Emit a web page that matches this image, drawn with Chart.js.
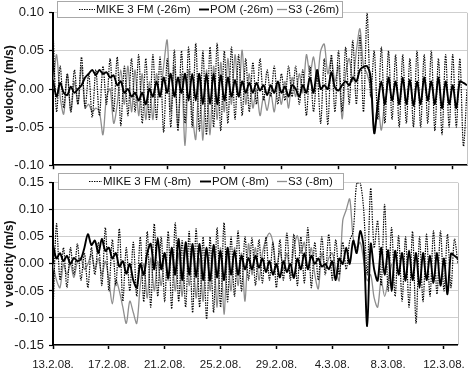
<!DOCTYPE html>
<html><head><meta charset="utf-8">
<script src="https://cdn.jsdelivr.net/npm/chart.js@4.4.1/dist/chart.umd.min.js"></script>
<style>
html,body{margin:0;padding:0;background:#fff;width:474px;height:371px;overflow:hidden}
.box{position:absolute;left:0;width:474px}
#b1{top:0;height:178px}
#b2{top:170px;height:201px}
</style></head><body>
<div class="box" id="b1"><canvas id="c1" width="474" height="178"></canvas></div>
<div class="box" id="b2"><canvas id="c2" width="474" height="201"></canvas></div>
<script>
// time axis: days after 13.2.08, 4 samples per day
const SAMPLES_PER_DAY = 4;
const xTickDays = [0, 4, 8, 12, 16, 20, 24, 28];
const xTickLabels = ['13.2.08.', '17.2.08.', '21.2.08.', '25.2.08.', '29.2.08.', '4.3.08.', '8.3.08.', '12.3.08.'];
const uTickVals = [-0.10, -0.05, 0.00, 0.05, 0.10];
const uTickLabels = ['-0.10', '-0.05', '0.00', '0.05', '0.10'];
const vTickVals = [-0.15, -0.10, -0.05, 0.00, 0.05, 0.10, 0.15];
const vTickLabels = ['-0.15', '-0.10', '-0.05', '0.00', '0.05', '0.10', '0.15'];

// u velocity at -26 m
const uMike = [
 0.08,-0.03,0.03,-0.025,  0.02,-0.03,0.025,-0.02,  0.042,-0.025,0.02,-0.037,  0.025,-0.035,0.03,-0.02,
 0.04,-0.03,0.042,-0.048,  0.03,-0.035,0.04,-0.03,  0.045,-0.045,0.04,-0.04,  0.045,-0.04,0.042,-0.057,
 0.04,-0.05,0.051,-0.055,  0.05,-0.045,0.055,-0.05,  0.06,-0.055,0.05,-0.06,  0.055,-0.05,0.06,-0.055,
 0.05,-0.045,0.055,-0.04,  0.045,-0.035,0.04,-0.03,  0.035,-0.02,0.04,-0.015,  0.025,-0.01,0.03,-0.02,
 0.02,-0.015,0.03,-0.01,  0.03,-0.02,0.025,-0.035,  0.03,-0.03,0.02,-0.045,  0.04,-0.047,0.045,-0.03,
 0.05,-0.03,0.055,-0.02,  0.064,-0.02,0.07,-0.03,  0.1,-0.01,0.05,-0.04,  0.055,-0.045,0.05,-0.04,
 0.045,-0.05,0.045,-0.045,  0.04,-0.05,0.05,-0.05,  0.045,-0.045,0.05,-0.055,  0.04,-0.06,0.045,-0.05,
 0.045,-0.05,0.04,-0.075,  0.0
];
const uPom = [
 0.012,-0.01,0.008,-0.005,  -0.008,0.003,-0.005,0.0,  0.005,0.015,0.02,0.025,  0.018,0.025,0.02,0.022,
 0.015,0.018,0.005,0.01,  -0.005,0.0,-0.01,-0.005,  -0.015,-0.005,-0.02,0.0,  -0.01,0.01,-0.01,0.015,
 -0.005,0.02,-0.01,0.015,  -0.005,0.02,-0.015,0.02,  -0.015,0.02,-0.02,0.02,  -0.02,0.02,-0.02,0.018,
 -0.015,0.015,-0.01,0.012,  -0.01,0.01,-0.005,0.008,  -0.005,0.008,-0.002,0.005,  -0.008,0.005,-0.005,0.01,
 -0.005,0.003,-0.01,0.005,  0.0,-0.01,0.005,-0.005,  0.015,-0.005,0.025,0.0,  0.005,0.0,0.022,0.002,
 -0.002,0.005,0.01,0.005,  0.015,0.01,0.025,0.029,  0.03,0.015,-0.058,-0.02,  0.01,-0.02,0.015,-0.015,
 0.01,-0.02,0.015,-0.02,  0.012,-0.022,0.01,-0.02,  0.015,-0.015,0.01,-0.02,  0.015,-0.025,0.01,-0.02,
 0.005,-0.025,0.01,0.008,  0.005
];
const uS3 = [
 0.0,0.045,-0.01,-0.033,  0.02,-0.03,0.01,-0.02,  0.03,-0.025,-0.02,-0.03,  -0.025,-0.03,-0.06,-0.01,
 0.0,-0.045,-0.02,0.025,  -0.02,0.03,-0.03,0.025,  -0.035,0.02,-0.04,0.01,  -0.04,0.02,-0.01,0.03,
 0.064,-0.03,0.03,-0.05,  0.02,-0.074,0.025,-0.03,  -0.066,0.02,-0.067,0.025,  -0.06,0.03,-0.04,0.035,
 -0.03,0.04,-0.02,0.045,  -0.01,0.051,-0.02,0.02,  -0.025,0.0,-0.035,-0.01,  -0.028,-0.005,-0.03,0.005,
 -0.02,0.01,-0.025,0.015,  -0.01,0.02,-0.005,0.045,  0.02,0.042,0.01,0.05,  0.059,0.02,0.04,0.01,
 0.03,-0.039,0.02,0.04,  0.01,0.05,0.079,0.03,  0.02,0.0,-0.054,-0.02,  -0.054,-0.01
];

// v velocity at -8 m
const vMike = [
 -0.093,0.074,-0.03,0.03,  -0.044,0.03,-0.02,0.037,  -0.03,0.02,-0.044,0.03,  -0.02,0.04,-0.04,0.067,
 -0.05,0.045,-0.04,0.065,  -0.069,0.03,-0.05,0.04,  -0.06,0.05,-0.07,0.06,  -0.08,0.074,-0.06,0.05,
 -0.07,0.06,-0.083,0.076,  -0.07,0.043,-0.08,0.06,  -0.09,0.065,-0.08,0.05,  -0.102,0.05,-0.09,0.067,
 -0.08,0.076,-0.07,0.05,  -0.06,0.061,-0.05,0.05,  -0.03,0.048,-0.04,0.045,  -0.035,0.05,-0.03,0.04,
 -0.044,0.045,-0.03,0.057,  -0.03,0.055,-0.04,0.05,  -0.035,0.067,-0.044,0.04,  -0.03,0.05,-0.02,0.055,
 -0.03,0.045,-0.02,0.04,  -0.01,0.043,0.06,0.15,  0.15,0.1,-0.02,0.14,  0.03,0.08,-0.04,0.11,
 -0.05,0.067,-0.06,0.052,  -0.069,0.05,-0.08,0.06,  -0.11,0.05,-0.07,0.055,  -0.06,0.061,-0.056,0.061,
 -0.05,0.055,-0.044,0.046,  0.0
];
const vPom = [
 0.035,0.01,0.02,0.005,  0.015,0.0,0.011,0.005,  0.009,0.03,0.055,0.035,  0.043,0.02,0.046,0.024,
 0.03,0.01,0.02,-0.005,  0.005,-0.018,0.0,-0.03,  -0.044,0.0,-0.02,0.02,  0.037,-0.01,0.048,-0.01,
 0.02,-0.026,0.03,-0.02,  0.046,-0.03,0.04,-0.02,  0.037,-0.025,0.037,-0.03,  0.03,-0.031,0.035,-0.025,
 0.024,-0.03,0.03,-0.02,  0.025,-0.02,0.015,-0.01,  0.011,-0.01,0.015,-0.007,  0.01,-0.015,0.005,-0.02,
 0.0,-0.025,0.005,-0.015,  0.0,-0.026,0.01,-0.01,  0.02,-0.01,0.015,0.0,  0.01,-0.005,0.0,-0.01,
 0.005,-0.03,0.01,0.0,  0.03,0.0,0.043,0.02,  0.061,0.03,-0.115,0.037,  -0.01,-0.031,0.03,-0.02,
 0.025,-0.05,0.024,-0.02,  0.02,-0.031,0.025,-0.03,  0.02,-0.044,0.02,-0.03,  0.015,-0.035,0.02,-0.04,
 0.01,-0.056,0.019,0.015,  0.01
];
const vS3 = [
 0.0,-0.03,-0.044,0.0,  -0.02,0.0,-0.025,0.005,  0.011,-0.01,0.0,0.018,  -0.01,0.01,-0.02,0.005,
 -0.03,-0.074,-0.03,-0.05,  -0.08,-0.11,-0.069,-0.09,  -0.11,-0.04,0.0,-0.063,  0.011,-0.05,0.005,-0.04,
 0.02,-0.031,0.024,-0.05,  0.02,-0.06,0.03,-0.04,  0.025,-0.063,0.01,-0.069,  0.03,-0.05,0.025,-0.08,
 0.03,-0.093,0.02,-0.05,  0.03,-0.04,0.02,-0.069,  0.037,-0.02,0.03,-0.03,  0.02,0.045,0.057,0.04,
 -0.007,0.024,-0.01,0.02,  -0.02,0.03,0.052,0.02,  0.04,-0.01,0.03,-0.02,  -0.046,0.02,-0.01,0.011,
 0.02,-0.01,-0.031,0.08,  0.1,0.12,0.048,0.03,  0.04,0.006,-0.031,-0.02,  -0.063,-0.08,-0.03,-0.06,
 -0.031,0.0
];

const uLabels = ['MIKE 3 FM (-26m)', 'POM (-26m)', 'S3 (-26m)'];
const vLabels = ['MIKE 3 FM (-8m)', 'POM (-8m)', 'S3 (-8m)'];

const FONT = '"Liberation Sans", Arial, Helvetica, sans-serif';
const toPts = arr => arr.map((v, i) => ({ x: i / SAMPLES_PER_DAY, y: v }));

function datasets(labels, mike, pom, s3) {
  return [
    { label: labels[0], data: toPts(mike), borderColor: '#000', borderWidth: 1.2, borderDash: [1.4, 1.1], order: 1 },
    { label: labels[1], data: toPts(pom), borderColor: '#000', borderWidth: 1.9, order: 0 },
    { label: labels[2], data: toPts(s3), borderColor: '#8e8e8e', borderWidth: 1.3, order: 2 }
  ];
}

function makeLegend(box, items) {
  return {
    id: 'boxLegend',
    afterDraw(chart) {
      const ctx = chart.ctx;
      ctx.save();
      ctx.fillStyle = '#fff';
      ctx.fillRect(box.x, box.y, box.w, box.h);
      ctx.strokeStyle = '#a8a8a8';
      ctx.lineWidth = 1;
      ctx.strokeRect(box.x + 0.5, box.y + 0.5, box.w, box.h);
      ctx.font = '11.5px ' + FONT;
      ctx.textBaseline = 'middle';
      const cy = box.y + box.h / 2 + 0.5;
      items.forEach((it, i) => {
        const ds = chart.data.datasets[i];
        ctx.beginPath();
        ctx.setLineDash(ds.borderDash || []);
        ctx.strokeStyle = ds.borderColor;
        ctx.lineWidth = ds.borderWidth;
        ctx.moveTo(it[0], cy); ctx.lineTo(it[1], cy); ctx.stroke();
        ctx.setLineDash([]);
        ctx.fillStyle = '#111';
        ctx.fillText(ds.label, it[1] + 1, cy + 0.5);
      });
      ctx.restore();
    }
  };
}

const frame = {
  id: 'frame',
  beforeDatasetsDraw(chart) {
    const a = chart.chartArea, ctx = chart.ctx;
    ctx.save();
    ctx.strokeStyle = '#c4c4c4';
    ctx.lineWidth = 1;
    ctx.beginPath();
    ctx.moveTo(Math.round(a.right) + 0.5, a.top);
    ctx.lineTo(Math.round(a.right) + 0.5, a.bottom);
    ctx.stroke();
    ctx.restore();
  }
};

function makeChart(id, opts) {
  return new Chart(document.getElementById(id), {
    type: 'line',
    data: { datasets: datasets(opts.labels, opts.mike, opts.pom, opts.s3) },
    options: {
      responsive: false,
      animation: false,
      devicePixelRatio: 1,
      layout: { padding: { top: opts.padTop, right: 7, left: 0, bottom: 0 } },
      elements: { point: { radius: 0 }, line: { tension: 0.3, borderJoinStyle: 'round', fill: false } },
      plugins: { legend: { display: false }, tooltip: { enabled: false } },
      scales: {
        x: {
          type: 'linear', min: 0, max: 29,
          afterBuildTicks: s => { s.ticks = xTickDays.map(v => ({ value: v })); },
          afterFit: s => { s.height = opts.xHeight; },
          grid: { drawOnChartArea: false, drawTicks: true, tickLength: 4, tickColor: '#000', tickWidth: 1.5 },
          border: { color: '#000', width: 1.5 },
          ticks: {
            display: opts.showX, padding: 9, maxRotation: 0, autoSkip: false,
            color: '#1a1a1a', font: { family: FONT, size: 11.5 },
            callback: (v, i) => xTickLabels[i]
          }
        },
        y: {
          min: opts.tickVals[0], max: opts.tickVals[opts.tickVals.length - 1],
          afterBuildTicks: s => { s.ticks = opts.tickVals.map(v => ({ value: v })); },
          afterFit: s => { s.width = 53; },
          grid: { color: '#cfcfcf', lineWidth: 1, tickLength: 4, tickColor: '#000', tickWidth: 1.2 },
          border: { color: '#000', width: 2 },
          ticks: {
            padding: 5, color: '#1a1a1a', font: { family: FONT, size: 13 },
            callback: (v, i) => opts.tickLabels[i]
          },
          title: {
            display: true, text: opts.title, color: '#111',
            font: { family: FONT, size: 12, weight: 'bold' }, padding: { top: 2, bottom: 0 }
          }
        }
      }
    },
    plugins: [frame, makeLegend(opts.legendBox, opts.legendItems)]
  });
}

makeChart('c1', {
  labels: uLabels, mike: uMike, pom: uPom, s3: uS3,
  tickVals: uTickVals, tickLabels: uTickLabels, title: 'u velocity (m/s)',
  padTop: 11, xHeight: 7, showX: false,
  legendBox: { x: 57, y: 1, w: 285, h: 16 },
  legendItems: [[79, 95], [199, 209], [277, 287]]
});
makeChart('c2', {
  labels: vLabels, mike: vMike, pom: vPom, s3: vS3,
  tickVals: vTickVals, tickLabels: vTickLabels, title: 'v velocity (m/s)',
  padTop: 12, xHeight: 26, showX: true,
  legendBox: { x: 58, y: 3, w: 285, h: 16 },
  legendItems: [[89, 102], [200, 211], [277, 287]]
});
</script>
</body></html>
